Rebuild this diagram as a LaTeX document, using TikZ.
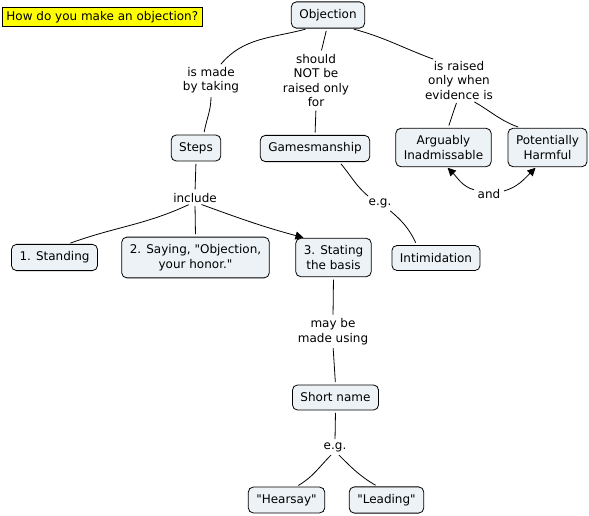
\documentclass[tikz,border=0pt]{standalone}
\usepackage{fontspec}
\setmainfont{DejaVu Sans}[Ligatures=TeXOff]
\usepackage{tikz}
\usetikzlibrary{arrows.meta}
\definecolor{conceptfill}{RGB}{236,242,245}
\definecolor{titlefill}{RGB}{255,255,0}
\newcommand{\mapfont}{\fontsize{12pt}{14.5pt}\selectfont}
\tikzset{
    conceptmap/.style={
        x=1pt, y=1pt,
        concept/.style={draw, line width=0.8pt, rounded corners=5pt, fill=conceptfill,
            align=center, inner xsep=8pt, inner ysep=7.3pt, minimum height=25pt, font=\mapfont},
        linking/.style={align=center, inner sep=1pt, font=\mapfont},
        heading/.style={draw, line width=0.8pt, fill=titlefill, inner xsep=4pt, inner ysep=4pt, font=\mapfont},
        link/.style={line width=0.8pt, shorten <=2.5pt, shorten >=2.5pt},
        flow/.style={link, -{Triangle[length=8pt,width=8pt]}, shorten >=1pt},
    },
}

\begin{document}
\begin{tikzpicture}[conceptmap]
    \useasboundingbox (0,0) rectangle (589,-516);
    \node[heading, anchor=west] (title) at (2,-17) {How do you make an objection?};

    % concepts
    \node[concept] (obj)    at (328,-15)      {Objection};
    \node[concept] (steps)  at (196,-148)     {Steps};
    \node[concept] (games)  at (315,-148.5)   {Gamesmanship};
    \node[concept] (argu)   at (443.5,-147.5) {Arguably\\Inadmissable};
    \node[concept] (harm)   at (547.5,-147.5) {Potentially\\Harmful};
    \node[concept] (stand)  at (54.5,-257.5)  {1. Standing};
    \node[concept] (say)    at (195.5,-257.5) {2. Saying, "Objection,\\your honor."};
    \node[concept] (basis)  at (333.5,-257.5) {3. Stating\\the basis};
    \node[concept] (intim)  at (436,-258)     {Intimidation};
    \node[concept] (short)  at (335.5,-397.5) {Short name};
    \node[concept] (hear)   at (286.5,-500)   {"Hearsay"};
    \node[concept] (lead)   at (386.5,-500)   {"Leading"};

    % linking phrases
    \node[linking] (lmade)   at (211,-80.4)   {is made\\by taking};
    \node[linking] (lnot)    at (316,-80.5)   {should\\NOT be\\raised only\\for};
    \node[linking] (lraised) at (459,-80.3)   {is raised\\only when\\evidence is};
    \node[linking] (legg)    at (380,-203.4)  {e.g.};
    \node[linking] (land)    at (489,-193.8)  {and};
    \node[linking] (linc)    at (195,-197.8)  {include};
    \node[linking] (lmay)    at (333,-331.5)  {may be\\made using};
    \node[linking] (leg)     at (335,-447.4)  {e.g.};

    % links
    \draw[link] (obj.214) to[out=195,in=50] (lmade.60);
    \draw[link] (lmade.south) to[out=-90,in=80] (steps.60);
    \draw[link] (obj.-95) -- (lnot.80);
    \draw[link] (lnot.south) -- (games.north);
    \draw[link] (obj.-30) to[out=-15,in=160] (lraised.139);
    \draw[link] (lraised.-95) -- (argu.77);
    \draw[link] (lraised.-57) to[out=-30,in=160] (harm.144);
    \draw[flow] (land.165) to[out=165,in=-45] (argu.-80);
    \draw[flow] (land.10) to[out=15,in=225] (harm.-120);
    \draw[link] (games.-29) to[out=-50,in=140] (legg.150);
    \draw[link] (legg.-35) to[out=-40,in=115] (intim.146);
    \draw[link] (steps.south) -- (linc.north);
    \draw[link] (linc.-125) to[out=205,in=20] (stand.45);
    \draw[link] (linc.south) -- (say.north);
    \draw[flow] (linc.-55) to[out=-20,in=165] (basis.146);
    \draw[link] (basis.south) -- (lmay.north);
    \draw[link] (lmay.south) -- (short.north);
    \draw[link] (short.south) -- (leg.north);
    \draw[link] (leg.-110) to[out=225,in=30] (hear.54);
    \draw[link] (leg.-70) to[out=-45,in=150] (lead.123);
\end{tikzpicture}
\end{document}
